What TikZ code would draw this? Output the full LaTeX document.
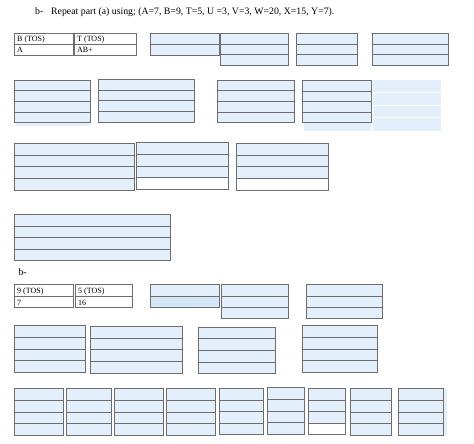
\documentclass[tikz,border=0pt]{standalone}
\usepackage{fontspec}
\setmainfont{Liberation Serif}
\definecolor{cellblue}{HTML}{E3EFFA}
\definecolor{cellblue2}{HTML}{D3E6F6}
\definecolor{rulegray}{HTML}{6E6E6E}
\newcommand{\stackbox}[6]{%
  \path[fill=#6] (#1,#2) rectangle (#3,#4);
  \foreach \yy in {#5} {\draw[gridline] (#1,\yy) -- (#3,\yy);}
  \draw[gridline] (#1,#2) rectangle (#3,#4);
}
\begin{document}
\begin{tikzpicture}[x=1pt,y=-1pt,
  gridline/.style={draw=rulegray,line width=0.9pt},
  celltext/.style={anchor=base west,inner sep=0pt,font=\fontsize{8}{9}\selectfont},
  titletext/.style={anchor=base west,inner sep=0pt,font=\fontsize{9.8}{11}\selectfont}]
\useasboundingbox[fill=white] (0,0) rectangle (474,444);
% title
\node[titletext] (tb) at (35,15) {b-};
\node[titletext] (tt) at (51,15) {Repeat part (a) using; (A=7, B=9, T=5, U =3, V=3, W=20, X=15, Y=7).};
% row 1
\stackbox{14.3}{33.3}{73.5}{55}{44}{white}
\stackbox{74.5}{33.3}{136.7}{55}{44}{white}
\node[celltext] (c1) at (17,42) {B (TOS)};
\node[celltext] (c2) at (17,52.5) {A};
\node[celltext] (c3) at (77,42) {T (TOS)};
\node[celltext] (c4) at (77,52.5) {AB+};
\stackbox{150}{33.3}{219}{55}{44}{cellblue}
\stackbox{220.7}{33.3}{288.7}{65.3}{44,54.7}{cellblue}
\stackbox{296.7}{33.3}{357.3}{65.3}{44,54.7}{cellblue}
\stackbox{372}{33.3}{448.3}{65.3}{44,54.7}{cellblue}
% row 2
\fill[cellblue] (16,122) rectangle (90.7,126);
\stackbox{14.3}{80}{90.7}{122.3}{90.7,101.3,112}{cellblue}
\stackbox{98.7}{79.3}{194.7}{122.3}{90,100.7,111.3}{cellblue}
\stackbox{217.3}{80}{294}{122.3}{90.7,101.3,112}{cellblue}
\fill[cellblue] (304,122) rectangle (371,130.5);
\stackbox{302}{80}{371.7}{122.3}{91,101.5,112}{cellblue}
\fill[cellblue] (373.3,80) rectangle (440.7,130.5);
\foreach \yy in {92.3,105.3,117.7} {\draw[white,line width=0.6pt] (373.3,\yy) -- (440.7,\yy);}
% row 3
\stackbox{14.3}{143}{134.3}{190.3}{155.3,166.7,178}{cellblue}
\fill[cellblue] (136.3,142.3) rectangle (228.7,177.3);
\stackbox{136.3}{142.3}{228.7}{189.3}{154.3,166,177.3}{none}
\fill[cellblue] (236.3,143.3) rectangle (328.3,178);
\stackbox{236.3}{143.3}{328.3}{190}{155.3,166.7,178}{none}
% row 4
\stackbox{14.3}{214.3}{170.3}{260.3}{226,237.3,249}{cellblue}
% second part
\node[titletext] (tb2) at (18.3,275) {b-};
\stackbox{14.3}{284.3}{73.3}{307.7}{296}{white}
\stackbox{75.3}{284.3}{132.3}{307.7}{296}{white}
\node[celltext] (d1) at (17,293.5) {9 (TOS)};
\node[celltext] (d2) at (17,305) {7};
\node[celltext] (d3) at (78,293.5) {5 (TOS)};
\node[celltext] (d4) at (78,305) {16};
\fill[cellblue2] (150.3,296) rectangle (219,307.7);
\fill[cellblue] (150.3,284.3) rectangle (219,296);
\stackbox{150.3}{284.3}{219}{307.7}{296}{none}
\stackbox{221}{284.3}{288.7}{318.7}{296,307.3}{cellblue}
\stackbox{306}{284.3}{382.3}{318.7}{296,307.3}{cellblue}
% row 6
\stackbox{14.3}{325.7}{85.7}{372}{337,349,360.3}{cellblue}
\stackbox{90.7}{326}{182.7}{373.3}{338,349.7,361}{cellblue}
\stackbox{198.7}{327.3}{275.3}{373.7}{338.7,350.3,362}{cellblue}
\stackbox{302}{325.7}{377.7}{372.3}{337.3,349,360.3}{cellblue}
% row 7
\stackbox{14.3}{388.7}{63}{435.3}{400.3,412,423.7}{cellblue}
\stackbox{66.3}{388.7}{111.7}{435.3}{400.3,412,423.7}{cellblue}
\stackbox{114.3}{388.7}{163}{435.3}{400.3,412,423.7}{cellblue}
\stackbox{166.3}{388.7}{215.3}{435.3}{400.3,412,423.7}{cellblue}
\stackbox{219}{388}{263.7}{434.3}{400,411.7,423.3}{cellblue}
\stackbox{267.7}{387.3}{304.3}{434}{399.3,411,422.7}{cellblue}
\fill[cellblue] (308.7,388) rectangle (345.3,423.3);
\stackbox{308.7}{388}{345.3}{434.3}{400,411.7,423.3}{none}
\stackbox{350.3}{388.7}{391.7}{435.3}{400.3,412,423.7}{cellblue}
\fill[cellblue] (443,388.7) rectangle (446.7,435.3);
\stackbox{398.3}{388.7}{443}{435.3}{400.3,412,423.7}{cellblue}
\end{tikzpicture}
\end{document}
